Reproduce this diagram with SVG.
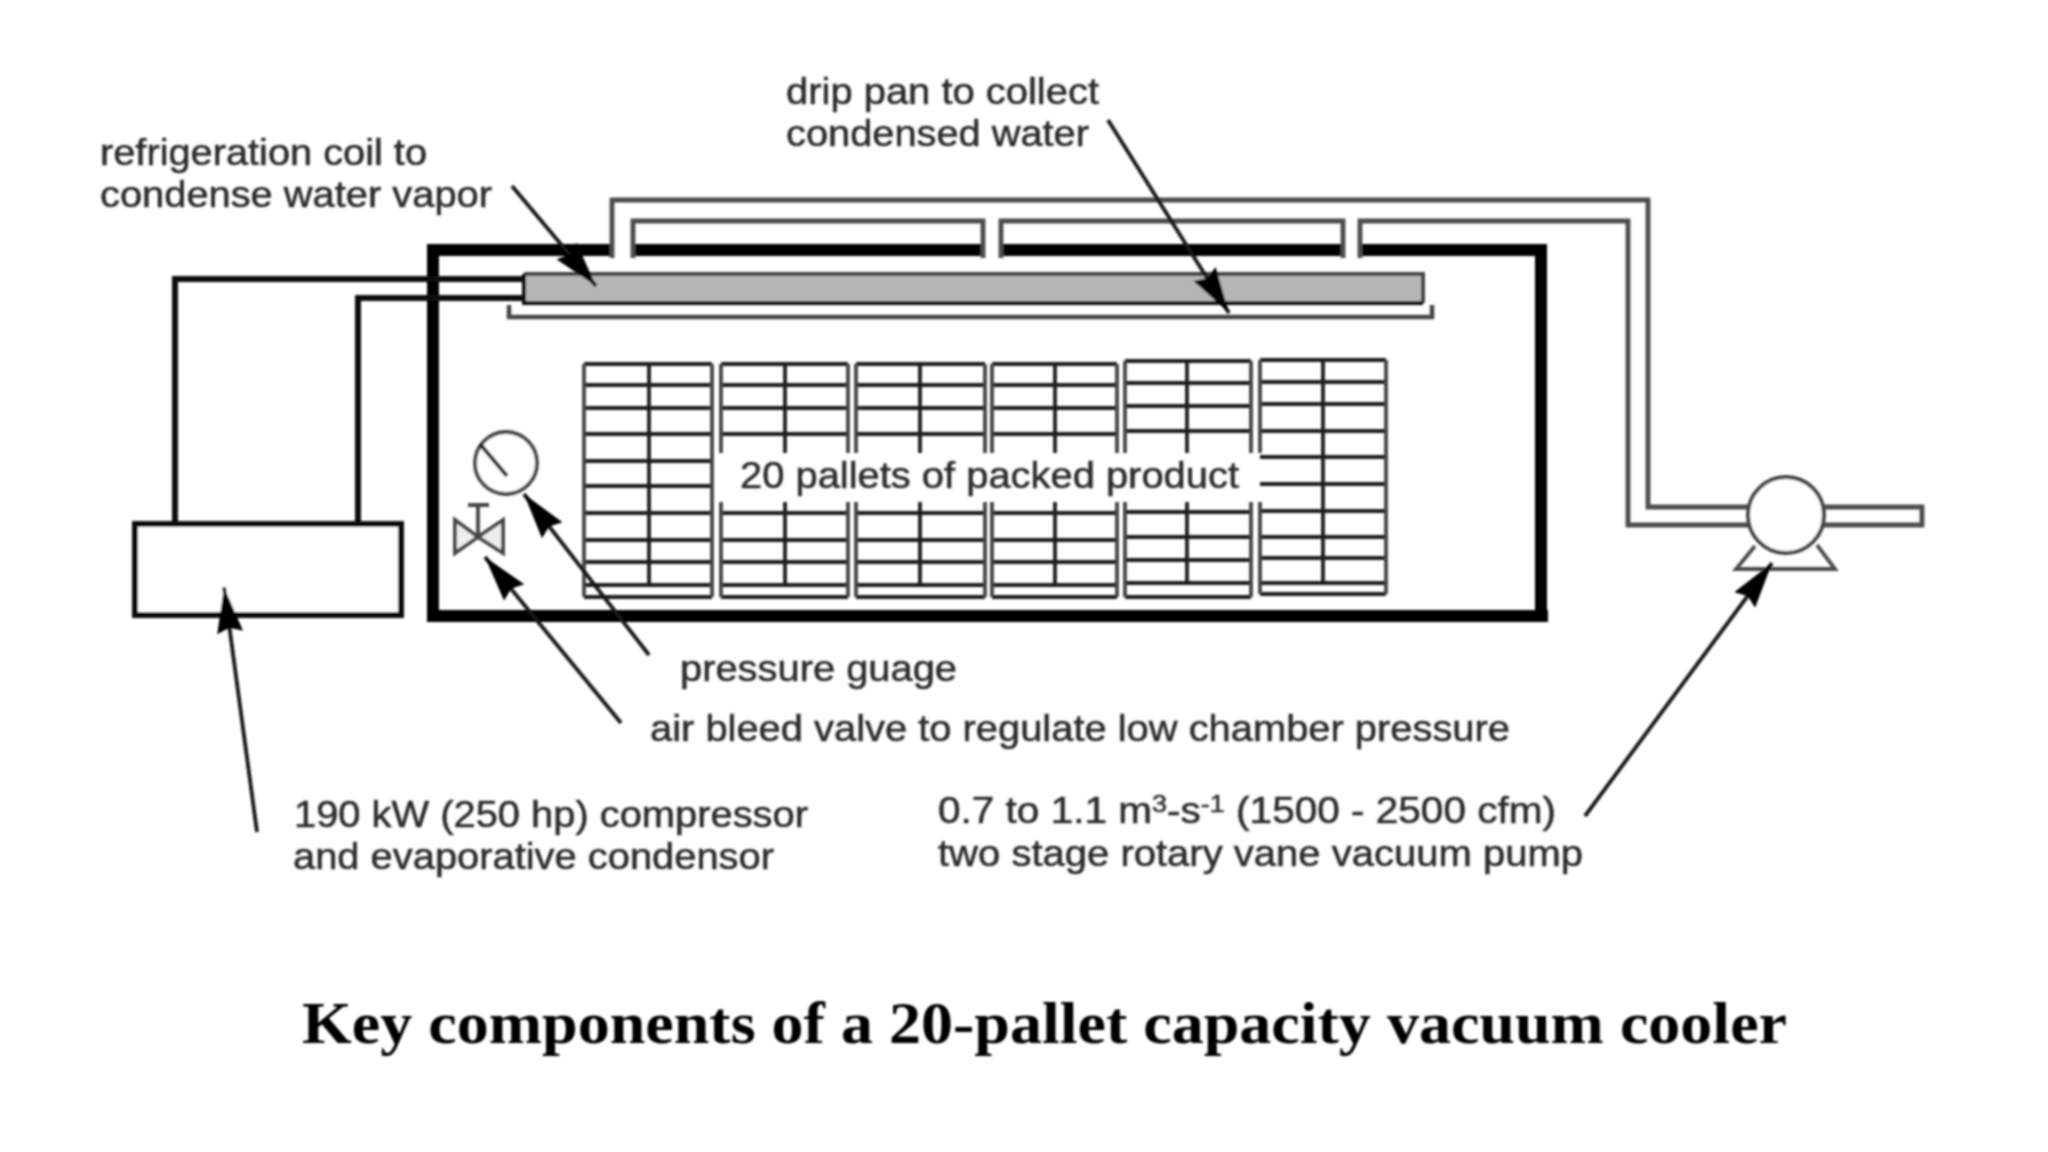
<svg xmlns="http://www.w3.org/2000/svg" width="2048" height="1152" viewBox="0 0 2048 1152">
<style>
.l{font-family:"Liberation Sans",Arial,sans-serif;font-size:36px;fill:#2c2c2c;stroke:#2c2c2c;stroke-width:.5}
.t{font-family:"Liberation Serif","Times New Roman",serif;font-size:59px;font-weight:bold;fill:#000}
.p{fill:none;stroke:#1c1c1c;stroke-width:3.8}
.e{fill:none;stroke:#444;stroke-width:3.8}
.v{fill:none;stroke:#4c4c4c;stroke-width:4.8}
.k{fill:none;stroke:#0a0a0a;stroke-width:6}
.a{fill:none;stroke:#151515;stroke-width:3.8;marker-end:url(#h)}
</style>
<defs>
<marker id="h" markerUnits="userSpaceOnUse" markerWidth="50" markerHeight="32" refX="46" refY="16" orient="auto"><path d="M0,3 L46,16 L0,29 L5,16 Z" fill="#050505"/></marker>
<filter id="b" filterUnits="userSpaceOnUse" x="0" y="0" width="2048" height="1152"><feGaussianBlur stdDeviation="1.1"/></filter>
</defs>
<rect width="2048" height="1152" fill="#fff"/>
<g filter="url(#b)">
<g id="chamber"><path d="M433,250 H612 M633,250 H983 M1001,250 H1343 M1360,250 H1541 M433,244 V616 M1541,244 V622 M427,616 H1548" fill="none" stroke="#000" stroke-width="12"/></g>
<g id="refrigerant-lines"><path class="k" d="M175,524 V279 H524 M358,524 V298 H524"/></g>
<g id="coil"><rect x="524" y="274" width="899" height="29" fill="#b5b5b5"/><path d="M524,274 H1423 V303" fill="none" stroke="#444" stroke-width="4"/><path d="M524,274 V303 H1423" fill="none" stroke="#111" stroke-width="4"/></g>
<g id="drip-pan"><path d="M509,305 V317 H1432 V305" fill="none" stroke="#444" stroke-width="4.5"/></g>
<g id="vacuum-line"><path class="v" d="M612,258 V200 H1648 V507 H1750"/><path class="v" d="M633,258 V221 H983 V258 M1001,258 V221 H1343 V258 M1360,258 V221 H1628 V525 H1748"/></g>
<g id="pump"><path class="v" d="M1823,507 H1922 V525 H1823"/><circle cx="1786" cy="515" r="38" fill="#fff" stroke="#444" stroke-width="4"/><path class="v" style="stroke-width:3.8" d="M1755,546 L1736,569 H1835 L1817,545"/></g>
<g id="compressor"><rect x="135" y="524" width="266" height="91" fill="#fff" stroke="#0a0a0a" stroke-width="6"/></g>
<g id="gauge"><circle cx="506" cy="463" r="31" fill="#fff" stroke="#444" stroke-width="3.8"/><path d="M480,444 L507,476" stroke="#222" stroke-width="4"/></g>
<g id="valve"><path d="M468,505 H489 M478,505 V537" fill="none" stroke="#444" stroke-width="3.8"/><path d="M455,520 V553 L478,537 Z M503,520 V553 L478,537 Z" fill="#eee" stroke="#444" stroke-width="3.8"/></g>
<g id="pallets">
<g id="pallet-1"><path class="p" d="M584,364 H712 M584,385 H712 M584,408 H712 M584,434 H712 M584,461 H712 M584,486 H712 M584,513 H712 M584,540 H712 M584,562 H712 M584,585 H712 M584,597 H712 M649,364 V585"/><path class="e" d="M584,364 V597 M712,364 V597"/></g>
<g id="pallet-2"><path class="p" d="M721,364 H848 M721,385 H848 M721,408 H848 M721,434 H848 M721,513 H848 M721,540 H848 M721,562 H848 M721,585 H848 M721,597 H848 M785,364 V453 M785,502 V585"/><path class="e" d="M721,364 V453 M721,502 V597 M848,364 V453 M848,502 V597"/></g>
<g id="pallet-3"><path class="p" d="M856,364 H985 M856,385 H985 M856,408 H985 M856,434 H985 M856,513 H985 M856,540 H985 M856,562 H985 M856,585 H985 M856,597 H985 M920,364 V453 M920,502 V585"/><path class="e" d="M856,364 V453 M856,502 V597 M985,364 V453 M985,502 V597"/></g>
<g id="pallet-4"><path class="p" d="M992,364 H1117 M992,385 H1117 M992,408 H1117 M992,434 H1117 M992,513 H1117 M992,540 H1117 M992,562 H1117 M992,585 H1117 M992,597 H1117 M1055,364 V453 M1055,502 V585"/><path class="e" d="M992,364 V453 M992,502 V597 M1117,364 V453 M1117,502 V597"/></g>
<g id="pallet-5"><path class="p" d="M1125,361 H1251 M1125,383 H1251 M1125,406 H1251 M1125,431 H1251 M1125,512 H1251 M1125,537 H1251 M1125,560 H1251 M1125,583 H1251 M1125,597 H1251 M1187,361 V453 M1187,502 V583"/><path class="e" d="M1125,361 V453 M1125,502 V597 M1251,361 V453 M1251,502 V597"/></g>
<g id="pallet-6"><path class="p" d="M1260,360 H1386 M1260,382 H1386 M1260,404 H1386 M1260,431 H1386 M1260,457 H1386 M1260,484 H1386 M1260,511 H1386 M1260,537 H1386 M1260,558 H1386 M1260,583 H1386 M1260,594 H1386 M1323,360 V583"/><path class="e" d="M1260,360 V453 M1260,502 V594 M1386,360 V594"/></g>
</g>
<g id="connectors">
<path class="a" d="M512,186 L596,286"/>
<path class="a" d="M1108,120 L1229,313"/>
<path class="a" d="M649,655 L524,494"/>
<path class="a" d="M621,723 L485,557"/>
<path class="a" d="M257,832 L224,587"/>
<path class="a" d="M1585,816 L1772,563"/>
</g>
<g id="labels">
<text class="l" x="100" y="165" textLength="327" lengthAdjust="spacingAndGlyphs">refrigeration coil to</text>
<text class="l" x="100" y="207" textLength="392" lengthAdjust="spacingAndGlyphs">condense water vapor</text>
<text class="l" x="786" y="104" textLength="313" lengthAdjust="spacingAndGlyphs">drip pan to collect</text>
<text class="l" x="786" y="146" textLength="303" lengthAdjust="spacingAndGlyphs">condensed water</text>
<text class="l" x="740" y="488" textLength="499" lengthAdjust="spacingAndGlyphs">20 pallets of packed product</text>
<text class="l" x="680" y="681" textLength="277" lengthAdjust="spacingAndGlyphs">pressure guage</text>
<text class="l" x="650" y="741" textLength="860" lengthAdjust="spacingAndGlyphs">air bleed valve to regulate low chamber pressure</text>
<text class="l" x="294" y="827" textLength="514" lengthAdjust="spacingAndGlyphs">190 kW (250 hp) compressor</text>
<text class="l" x="293" y="869" textLength="481" lengthAdjust="spacingAndGlyphs">and evaporative condensor</text>
<text class="l" x="938" y="823" textLength="618" lengthAdjust="spacingAndGlyphs">0.7 to 1.1 m<tspan dy="-11" font-size="24">3</tspan><tspan dy="11">-s</tspan><tspan dy="-11" font-size="24">-1</tspan><tspan dy="11"> (1500 - 2500 cfm)</tspan></text>
<text class="l" x="938" y="866" textLength="645" lengthAdjust="spacingAndGlyphs">two stage rotary vane vacuum pump</text>
<text class="t" x="302" y="1043" textLength="1485" lengthAdjust="spacingAndGlyphs">Key components of a 20-pallet capacity vacuum cooler</text>
</g>
</g>
</svg>
